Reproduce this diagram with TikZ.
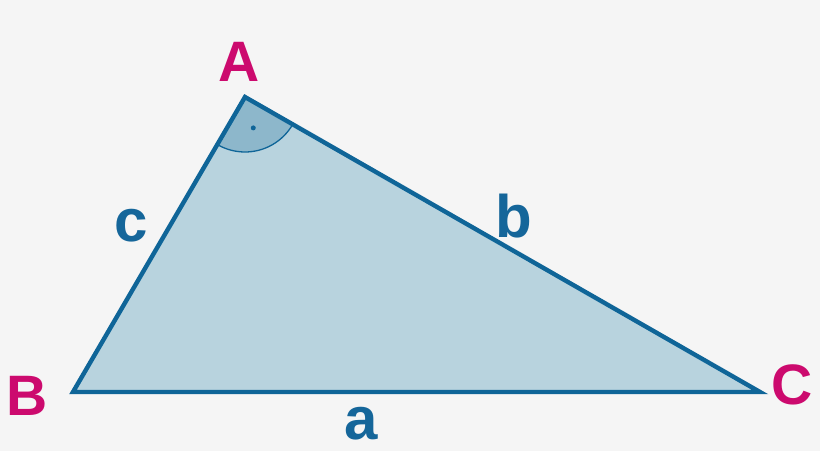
\documentclass[tikz,border=0pt]{standalone}
\usepackage{fontspec}
\setmainfont{Liberation Sans}
\usetikzlibrary{angles,calc}
\definecolor{bg}{HTML}{F5F5F5}
\definecolor{edge}{HTML}{0F6598}
\definecolor{tri}{HTML}{B8D3DE}
\definecolor{sect}{HTML}{8DB7CB}
\definecolor{vlab}{HTML}{CC0A6E}
\definecolor{slab}{HTML}{15669A}
\tikzset{
  vertexlabel/.style={text=vlab, font=\fontsize{57}{57}\selectfont\bfseries, inner sep=0pt},
  sidelabel/.style={text=slab, font=\fontsize{60}{60}\selectfont\bfseries, inner sep=0pt},
  triedge/.style={draw=edge, line width=4.4pt, line join=miter},
  rightangle/.style={draw=edge, line width=1.3pt, fill=sect, angle radius=55pt}
}
\begin{document}
\begin{tikzpicture}[x=1pt,y=1pt]
\fill[bg] (0,0) rectangle (820,451);
\useasboundingbox (0,0) rectangle (820,451);
\coordinate (A) at (245,354);
\coordinate (B) at (73,59);
\coordinate (C) at (760,59);
\fill[tri] (A) -- (B) -- (C) -- cycle;
\pic[rightangle] {angle = B--A--C};
\draw[triedge] (A) -- (B) -- (C) -- cycle;
\fill[edge] ($(A)+(-75:32)$) circle (2.5pt);
\node[vertexlabel] (lA) at (239,389) {A};
\node[vertexlabel] (lB) at (27,55) {B};
\node[vertexlabel] (lC) at (792,66) {C};
\node[sidelabel] (la) at (361,27) {a};
\node[sidelabel] (lb) at (514,235) {b};
\node[sidelabel] (lc) at (131,225) {c};
\end{tikzpicture}
\end{document}
